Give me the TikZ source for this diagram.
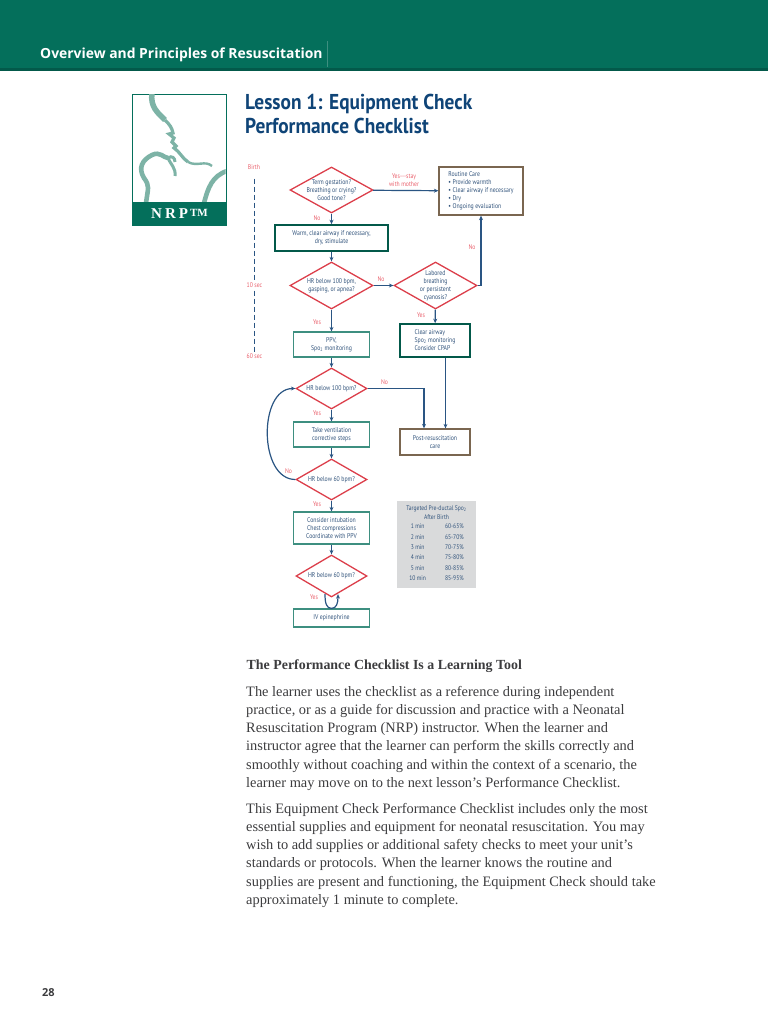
\documentclass[tikz,border=0pt]{standalone}
\usepackage{fontspec}
\setmainfont{Liberation Serif}
\newfontfamily\headfont{Open Sans}
\newfontfamily\titlefont[FakeStretch=0.9]{PT Sans}
\newfontfamily\flowfont[FakeStretch=0.84]{PT Sans}
\usetikzlibrary{shapes.geometric,arrows.meta,calc}
\definecolor{NRPGreen}{HTML}{046F5B}
\definecolor{NRPDark}{HTML}{03594A}
\definecolor{NRPLogo}{HTML}{7DB3A6}
\definecolor{NRPNavy}{HTML}{0F4477}
\definecolor{NRPLine}{HTML}{2A5583}
\definecolor{NRPText}{HTML}{32547C}
\definecolor{NRPRed}{HTML}{DC3F4B}
\definecolor{NRPPink}{HTML}{E9606C}
\definecolor{NRPBox}{HTML}{3E8F80}
\definecolor{NRPBrown}{HTML}{7A6650}
\definecolor{NRPGray}{HTML}{D9DADB}
\definecolor{NRPBody}{HTML}{3C3C3E}

\begin{document}
\begin{tikzpicture}[x=1pt,y=-1pt,
    flow/.style={line width=1.2pt,draw=NRPLine,-{Stealth[length=4.5pt,width=4pt]}},
    check/.style={diamond,draw=NRPRed,line width=1.3pt,fill=white,inner sep=0pt},
    careline/.style={rectangle,draw=NRPBox,line width=1.2pt,fill=white,inner sep=0pt,align=center,text=NRPText,font=\flowfont\fontsize{6.9}{8}\selectfont},
    carethick/.style={careline,draw=NRPDark,line width=1.6pt},
    brownbox/.style={careline,draw=NRPBrown,line width=1.3pt},
    tag/.style={text=NRPPink,inner sep=0pt,align=center,font=\flowfont\fontsize{6.8}{8}\selectfont},
    asks/.style={text=NRPText,align=center,inner sep=0pt,font=\flowfont\fontsize{6.9}{8}\selectfont},
    para/.style={anchor=north west,inner sep=0pt,align=left,text=NRPBody,font=\fontsize{14.4}{18.2}\selectfont}]
  \useasboundingbox (0,0) rectangle (768,1024);

  % page header
  \fill[NRPGreen] (0,0) rectangle (768,68);
  \fill[NRPDark] (0,68) rectangle (768,71);
  \draw[NRPBox,line width=0.6pt] (327,41) -- (327,67);
  \node[anchor=west,inner sep=0pt,text=white,font=\headfont\bfseries\fontsize{13.9}{16}\selectfont] (headtitle) at (40,54.5) {Overview and Principles of Resuscitation};

  % logo
  \draw[NRPGreen,line width=1pt,fill=white] (132.5,94.5) rectangle (226,226);
  \begin{scope}
    \clip (133,95) rectangle (225.5,202);
    \draw[NRPLogo,line width=5.5pt] (152,93) .. controls (150,107) and (158,113) .. (165,120);
    \draw[NRPLogo,line width=3.2pt] (165,120) .. controls (170,125) and (172,128) .. (173,133) -- (169,134) -- (174,138) -- (172,142) -- (176,146) -- (174,148) .. controls (180,152) and (182,158) .. (188,162);
    \draw[NRPLogo,line width=2.4pt] (188,162) .. controls (197,167) and (205,160) .. (212,166);
    \draw[NRPLogo,line width=4.6pt] (146,203) .. controls (148,188) and (150,186) .. (144,178) .. controls (138,168) and (142,160) .. (152,155) .. controls (160,151) and (164,158) .. (168,158);
    \draw[NRPLogo,line width=3pt] (168,158) .. controls (172,155) and (175,158) .. (175,162);
    \draw[NRPLogo,line width=3pt] (168,158) .. controls (171,165) and (176,168) .. (175,176);
    \draw[NRPLogo,line width=4.6pt] (204,203) .. controls (208,188) and (212,176) .. (227,171);
  \end{scope}
  \fill[NRPGreen] (132.5,202) rectangle (226,226);
  \node[inner sep=0pt,text=white,font=\bfseries\fontsize{15}{16}\selectfont] (logoname) at (179.5,214) {N\kern3pt R\kern3pt P\kern2pt{\fontsize{11}{12}\selectfont\raisebox{2pt}{TM}}};

  % title
  \node[anchor=north west,inner sep=0pt,align=left,text=NRPNavy,font=\titlefont\bfseries\fontsize{21.5}{23.5}\selectfont] (lessontitle) at (245,94) {Lesson 1: Equipment Check\\Performance Checklist};

  % time line
  \node[tag] (tbirth) at (254,167) {Birth};
  \node[tag] (tten) at (254.5,285) {10 sec};
  \node[tag] (tsixty) at (254.5,356) {60 sec};
  \draw[NRPLine,line width=1pt,dash pattern=on 5pt off 3pt] (tbirth.south)++(0.5,9) -- (tten.north);
  \draw[NRPLine,line width=1pt,dash pattern=on 5pt off 3pt] (tten.south)++(0,3) -- (tsixty.north);

  % flow chart
  \node[check,minimum width=83,minimum height=46,label={[asks]center:Term gestation?\\Breathing or crying?\\Good tone?}] (gest) at (331.5,190) {};
  \node[carethick,minimum width=113,minimum height=26] (warm) at (331.5,238) {Warm, clear airway if necessary,\\dry, stimulate};
  \node[check,minimum width=83,minimum height=47,label={[asks]center:HR below 100 bpm,\\gasping, or apnea?}] (hrone) at (331.5,285.5) {};
  \node[check,minimum width=83,minimum height=47,label={[asks]center:Labored\\breathing\\or persistent\\cyanosis?}] (labored) at (435.5,285.5) {};
  \node[brownbox,minimum width=84,minimum height=48,align=left] (routine) at (481,191) {Routine Care\\[-0.3pt]• Provide warmth\\• Clear airway if necessary\\• Dry\\• Ongoing evaluation};
  \node[careline,minimum width=76,minimum height=25] (ppv) at (331.5,344.5) {PPV,\\Spo\textsubscript{2} monitoring};
  \node[carethick,minimum width=70,minimum height=33,align=left] (airway) at (435,340.5) {Clear airway\\Spo\textsubscript{2} monitoring\\Consider CPAP};
  \node[check,minimum width=71,minimum height=41,label={[asks]center:HR below 100 bpm?}] (hrtwo) at (331.5,388.5) {};
  \node[careline,minimum width=76,minimum height=25] (steps) at (331.5,434.5) {Take ventilation\\corrective steps};
  \node[brownbox,minimum width=70,minimum height=26] (post) at (435,442) {Post-resuscitation\\care};
  \node[check,minimum width=71,minimum height=41,label={[asks]center:HR below 60 bpm?}] (hrthree) at (331.5,479.5) {};
  \node[careline,minimum width=76,minimum height=32] (chest) at (331.5,528) {Consider intubation\\Chest compressions\\Coordinate with PPV};
  \node[check,minimum width=71,minimum height=42,label={[asks]center:HR below 60 bpm?}] (hrfour) at (331.5,576) {};
  \node[careline,minimum width=76,minimum height=18] (epi) at (331.5,618) {IV epinephrine};

  \node[fill=NRPGray,minimum width=79,minimum height=87,inner sep=0pt,text=NRPText,font=\flowfont\fontsize{6.7}{10.3}\selectfont] (targets) at (436.5,544.5) {%
    \begin{tabular}{@{}c@{\hspace{19pt}}c@{}}
      \multicolumn{2}{c}{\makebox[0pt]{\shortstack{Targeted Pre-ductal Spo\textsubscript{2}\\After Birth}}}\\[-1pt]
      1 min & 60-65\%\\
      2 min & 65-70\%\\
      3 min & 70-75\%\\
      4 min & 75-80\%\\
      5 min & 80-85\%\\
      10 min & 85-95\%
    \end{tabular}};

  % connectors
  \draw[flow] (gest) -- (warm);
  \draw[flow] (warm) -- (hrone);
  \draw[flow] (hrone) -- (ppv);
  \draw[flow] (ppv) -- (hrtwo);
  \draw[flow] (hrtwo) -- (steps);
  \draw[flow] (steps) -- (hrthree);
  \draw[flow] (hrthree) -- (chest);
  \draw[flow] (chest) -- (hrfour);
  \draw[flow] (gest) -- (routine);
  \draw[flow] (hrone) -- (labored);
  \draw[flow] (labored.east) -| (routine.south);
  \draw[flow] (labored) -- (airway);
  \draw[flow] ($(airway.south)+(10.5,0)$) -- ($(post.north)+(10.5,0)$);
  \draw[flow] (hrtwo.east) -| ($(post.north)+(-11,0)$);
  \draw[flow] (hrthree.west) .. controls +(-37,0) and +(-37,0) .. (hrtwo.west);
  \draw[flow] ($(hrfour.south)+(-6.5,-3.5)$) .. controls +(0,9) and +(-5,0) .. (epi.north) .. controls +(5,0) and +(0,9) .. ($(hrfour.south)+(6.5,-3.5)$);

  % answers
  \node[tag] (nostay) at (404,180) {Yes---stay\\with mother};
  \node[tag] (noa) at (317,218) {No};
  \node[tag] (nob) at (381,279) {No};
  \node[tag] (noc) at (472,247) {No};
  \node[tag] (yesa) at (317,322) {Yes};
  \node[tag] (yesb) at (421,315.5) {Yes};
  \node[tag] (nod) at (384.5,382.5) {No};
  \node[tag] (yesc) at (317,413.5) {Yes};
  \node[tag] (noe) at (288.5,471.5) {No};
  \node[tag] (yesd) at (317,504) {Yes};
  \node[tag] (yese) at (314,597) {Yes};

  % text below the chart
  \node[para,font=\bfseries\fontsize{13.9}{16}\selectfont] (bodyhead) at (246.5,659.5) {The Performance Checklist Is a Learning Tool};
  \node[para] (bodyone) at (246,686) {The learner uses the checklist as a reference during independent\\practice, or as a guide for discussion and practice with a Neonatal\\Resuscitation Program (NRP) instructor. When the learner and\\instructor agree that the learner can perform the skills correctly and\\smoothly without coaching and within the context of a scenario, the\\learner may move on to the next lesson’s Performance Checklist.};
  \node[para] (bodytwo) at (246,803) {This Equipment Check Performance Checklist includes only the most\\essential supplies and equipment for neonatal resuscitation. You may\\wish to add supplies or additional safety checks to meet your unit’s\\standards or protocols. When the learner knows the routine and\\supplies are present and functioning, the Equipment Check should take\\approximately 1 minute to complete.};
  \node[anchor=west,inner sep=0pt,text=NRPBody,font=\headfont\bfseries\fontsize{11}{13}\selectfont] (pagenum) at (42,993) {28};
\end{tikzpicture}
\end{document}
